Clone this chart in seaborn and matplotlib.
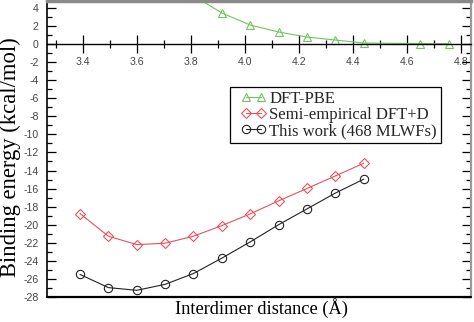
import matplotlib
matplotlib.use("Agg")
import matplotlib.pyplot as plt
import seaborn as sns
import numpy as np
from matplotlib.ticker import MultipleLocator, FormatStrFormatter
from matplotlib.legend_handler import HandlerLine2D

# ---- data ----
pbe_x = [3.81, 3.915, 4.02, 4.125, 4.23, 4.335, 4.44, 4.65, 4.755]
pbe_y = [5.35, 3.43, 2.10, 1.33, 0.77, 0.44, 0.11, 0.05, 0.03]

dftd_x = [3.39, 3.495, 3.60, 3.705, 3.81, 3.915, 4.02, 4.125, 4.23, 4.335, 4.44]
dftd_y = [-18.76, -21.27, -22.2, -22.05, -21.27, -20.1, -18.8, -17.36, -15.99, -14.6, -13.2]

mlwf_x = [3.39, 3.495, 3.60, 3.705, 3.81, 3.915, 4.02, 4.125, 4.23, 4.335, 4.44]
mlwf_y = [-25.5, -26.96, -27.26, -26.6, -25.4, -23.7, -21.9, -20.0, -18.25, -16.5, -14.96]

series_labels = ["DFT-PBE", "Semi-empirical DFT+D", "This work (468 MLWFs)"]
x_label = "Interdimer distance (Å)"
y_label = "Binding energy (kcal/mol)"

sns.set_style("white")
plt.rcParams["axes.unicode_minus"] = False
plt.rcParams["font.family"] = ["Liberation Serif", "DejaVu Serif"]

fig = plt.figure(figsize=(4.74, 3.22), dpi=100)
ax = fig.add_axes([47 / 474, 25 / 322, 424 / 474, 296 / 322])

green = "#72c462"
red = "#e8505e"
black = "#222222"

common = dict(linewidth=0.8, markersize=6, markeredgewidth=0.8, markerfacecolor="none")
sns.lineplot(x=pbe_x, y=pbe_y, ax=ax, color=green, marker="^", markeredgecolor=green,
             label=series_labels[0], sort=False, **common)
sns.lineplot(x=dftd_x, y=dftd_y, ax=ax, color=red, marker="D", markeredgecolor=red,
             label=series_labels[1], sort=False, linewidth=0.8, markersize=5,
             markeredgewidth=0.8, markerfacecolor="none")
sns.lineplot(x=mlwf_x, y=mlwf_y, ax=ax, color=black, marker="o", markeredgecolor=black,
             label=series_labels[2], sort=False, **common)

ax.set_xlim(3.268, 4.837)
ax.set_ylim(-28, 4.76)

# x axis drawn at y = 0 (zero axis)
ax.spines["bottom"].set_position(("data", 0))
ax.spines["bottom"].set_color("black")
ax.spines["bottom"].set_linewidth(1.0)
ax.spines["left"].set_color("black")
ax.spines["left"].set_linewidth(1.2)
ax.spines["top"].set_color("#8a8a8a")
ax.spines["top"].set_linewidth(2.5)
ax.spines["right"].set_color("#9a9a9a")
ax.spines["right"].set_linewidth(1.6)
# bottom frame line
ax.plot([0, 1], [0, 0], transform=ax.transAxes, color="black", linewidth=1.6,
        clip_on=False, zorder=5)

ax.xaxis.set_major_locator(MultipleLocator(0.2))
ax.xaxis.set_minor_locator(MultipleLocator(0.1))
ax.xaxis.set_major_formatter(FormatStrFormatter("%.1f"))
ax.yaxis.set_major_locator(MultipleLocator(2))
ax.yaxis.set_minor_locator(MultipleLocator(1))
ax.yaxis.set_major_formatter(FormatStrFormatter("%d"))

tick_font = dict(labelsize=7.6, labelcolor="#444444")
ax.tick_params(axis="x", which="major", direction="inout", length=13, width=0.9,
               color="black", pad=3, bottom=True, top=False, **tick_font)
ax.tick_params(axis="x", which="minor", direction="inout", length=6, width=0.9,
               color="black", bottom=True, top=False)
ax.tick_params(axis="y", which="major", direction="in", length=6.5, width=0.9,
               color="black", pad=6, left=True, right=True, **tick_font)
ax.tick_params(axis="y", which="minor", direction="in", length=3.6, width=0.9,
               color="black", left=True, right=True)
for lab in ax.get_xticklabels() + ax.get_yticklabels():
    lab.set_family(["Liberation Sans", "DejaVu Sans"])

ax.set_xlabel(x_label, fontsize=13.2, color="black")
ax.set_ylabel(y_label, fontsize=16.3, color="black")
ax.xaxis.set_label_coords(0.505, -0.005, transform=ax.transAxes)
ax.yaxis.set_label_coords(-0.061, 0.473)

handles, labels = ax.get_legend_handles_labels()
hmap = {h: HandlerLine2D(numpoints=2, marker_pad=0.73) for h in handles}
leg = ax.legend(handles, labels, handler_map=hmap,
                loc="upper right", bbox_to_anchor=(0.929, 0.709), borderaxespad=0,
                fontsize=12.0, frameon=True, fancybox=False, framealpha=1,
                edgecolor="black", handlelength=2.35, handletextpad=-0.26,
                labelspacing=0.0, borderpad=0.25)
leg.get_frame().set_linewidth(0.9)

fig.savefig("out.png", dpi=100)
